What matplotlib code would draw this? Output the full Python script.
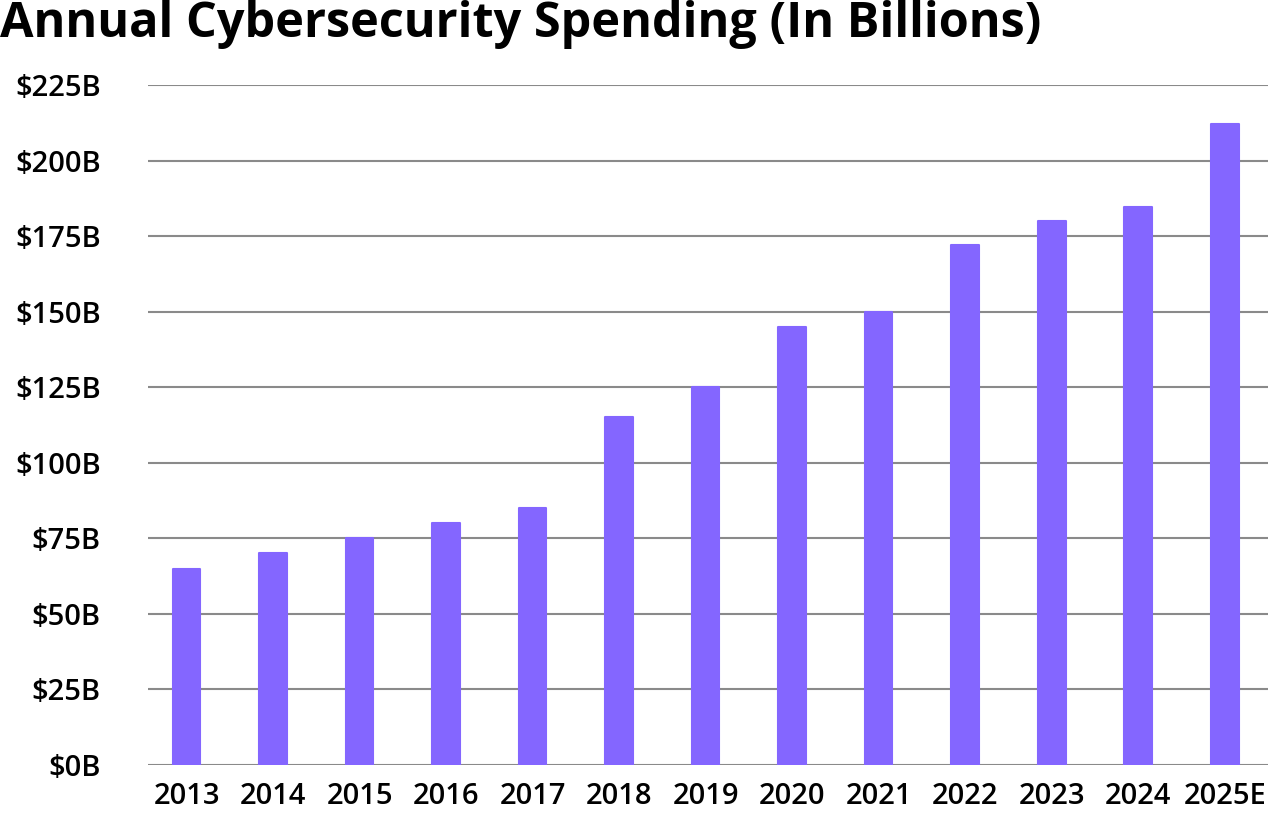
import matplotlib.pyplot as plt
import numpy as np

# 数据
years = ['2013', '2014', '2015', '2016', '2017', '2018', '2019',
         '2020', '2021', '2022', '2023', '2024', '2025E']
spending = [65, 70, 75, 80, 85, 115, 125, 145, 150, 172, 180, 184.5, 212]
y_ticks = [0, 25, 50, 75, 100, 125, 150, 175, 200, 225]

bar_color = '#8466FF'
grid_color = '#8a8a8a'

plt.rcParams['font.family'] = ['Open Sans', 'DejaVu Sans']

fig = plt.figure(figsize=(12.76, 8.36), dpi=100)
ax = fig.add_axes([0.116, 0.0849, 0.8777, 0.8134])

x = np.arange(len(years))
ax.bar(x, spending, width=0.32, color=bar_color, edgecolor=bar_color,
       linewidth=1.5, joinstyle='round', zorder=3)

ax.set_xlim(-0.445, len(years) - 0.5)
ax.set_ylim(0, 225)
ax.set_yticks(y_ticks)
ax.set_yticklabels([f'${v}B' for v in y_ticks], fontweight='semibold')
ax.set_xticks(x)
ax.set_xticklabels(years, fontweight='semibold')

ax.yaxis.grid(True, color=grid_color, linewidth=1.5, zorder=0)
ax.tick_params(axis='y', length=0, pad=34, labelsize=21)
ax.tick_params(axis='x', length=0, pad=12, labelsize=21)
for s in ax.spines.values():
    s.set_visible(False)

fig.text(0.0, 1.0, 'Annual Cybersecurity Spending (In Billions)',
         fontsize=35, fontweight='bold', ha='left', va='top')

fig.savefig('out.png', dpi=100)
